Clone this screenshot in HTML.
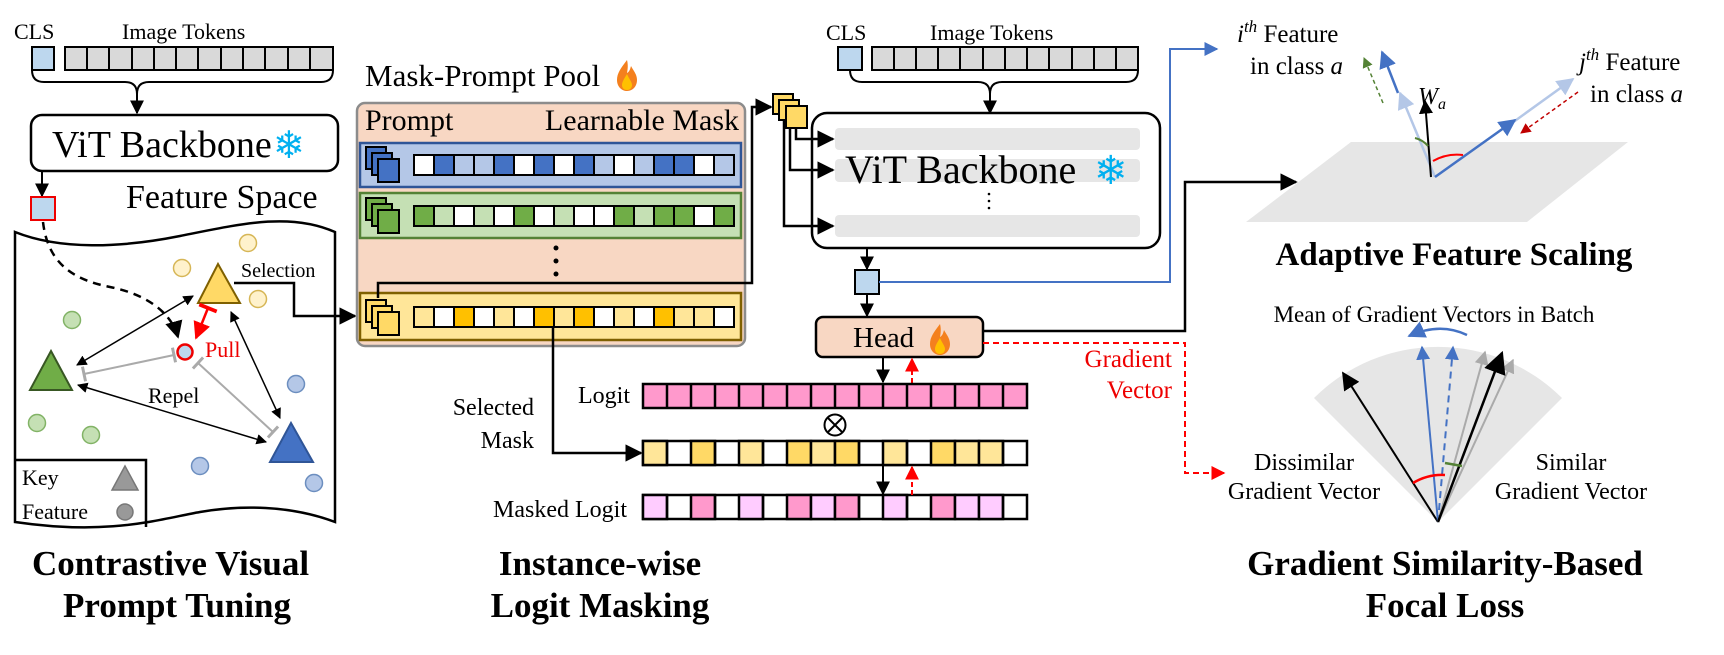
<!DOCTYPE html>
<html><head><meta charset="utf-8"><style>
html,body{margin:0;padding:0;background:#fff;}
svg{display:block;font-family:"Liberation Serif",serif;}
</style></head><body>
<svg width="1724" height="655" viewBox="0 0 1724 655" xmlns="http://www.w3.org/2000/svg">
<defs>
<marker id="ak" viewBox="0 0 10 10" refX="9" refY="5" markerWidth="7" markerHeight="7" orient="auto-start-reverse"><path d="M0,0L10,5L0,10z" fill="#000"/></marker>
<marker id="ak2" viewBox="0 0 10 10" refX="9" refY="5" markerWidth="9" markerHeight="9" orient="auto-start-reverse"><path d="M0,0L10,5L0,10z" fill="#000"/></marker>
<marker id="ar" viewBox="0 0 10 10" refX="9" refY="5" markerWidth="7" markerHeight="7" orient="auto"><path d="M0,0L10,5L0,10z" fill="#f00"/></marker>
<marker id="ab" viewBox="0 0 10 10" refX="9" refY="5" markerWidth="7" markerHeight="7" orient="auto"><path d="M0,0L10,5L0,10z" fill="#4472c4"/></marker>
<marker id="alb" viewBox="0 0 10 10" refX="9" refY="5" markerWidth="7" markerHeight="7" orient="auto"><path d="M0,0L10,5L0,10z" fill="#b4c7e7"/></marker>
<marker id="ag" viewBox="0 0 10 10" refX="9" refY="5" markerWidth="7" markerHeight="7" orient="auto"><path d="M0,0L10,5L0,10z" fill="#548235"/></marker>
<marker id="agr" viewBox="0 0 10 10" refX="9" refY="5" markerWidth="7" markerHeight="7" orient="auto"><path d="M0,0L10,5L0,10z" fill="#aaa"/></marker>
<marker id="adr" viewBox="0 0 10 10" refX="9" refY="5" markerWidth="7" markerHeight="7" orient="auto"><path d="M0,0L10,5L0,10z" fill="#c00000"/></marker>
<marker id="tg" viewBox="0 0 4 10" refX="2" refY="5" markerWidth="3" markerHeight="8" orient="auto"><path d="M2,0V10" stroke="#aaa" stroke-width="2"/></marker>
<marker id="tr" viewBox="0 0 4 10" refX="2" refY="5" markerWidth="3" markerHeight="8" orient="auto"><path d="M2,0V10" stroke="#f00" stroke-width="2"/></marker>
<g id="fire"><path d="M10,0 C4,8 0,13 0,20 C0,27 5,31 10,31 C15,31 20,27 20,20 C20,14 16,10 14,6 C13,10 12,12 10,13 C11,8 11,4 10,0Z" fill="#f4801e"/><path d="M10,14 C7,19 5,22 5,25 C5,28 7,30 10,30 C13,30 15,28 15,25 C15,22 12,19 10,14Z" fill="#ffc000"/></g>
</defs>

<!-- ===== LEFT: Contrastive Visual Prompt Tuning ===== -->
<text x="14" y="39" font-size="22">CLS</text>
<text x="122" y="39" font-size="22">Image Tokens</text>
<rect x="32" y="47" width="22" height="23" fill="#bdd7ee" stroke="#000" stroke-width="2"/>
<g stroke="#000" stroke-width="2" fill="#d9d9d9">
<rect x="65" y="47" width="268" height="23"/>
</g>
<g stroke="#000" stroke-width="2">
<path d="M87,47v23M109,47v23M132,47v23M154,47v23M176,47v23M198,47v23M221,47v23M243,47v23M265,47v23M288,47v23M310,47v23"/>
</g>
<path d="M32,70 q0,12 12,12 H125 q12,0 12,12 q0,-12 12,-12 H321 q12,0 12,-12" fill="none" stroke="#000" stroke-width="2"/>
<line x1="137" y1="94" x2="137" y2="113" stroke="#000" stroke-width="2" marker-end="url(#ak)"/>
<rect x="31" y="115" width="307" height="56" rx="11" fill="#fff" stroke="#000" stroke-width="2.5"/>
<text x="52" y="157" font-size="38">ViT Backbone</text>
<text x="273" y="158" font-size="38" fill="#00b0f0">❄</text>
<line x1="42" y1="171" x2="42" y2="196" stroke="#000" stroke-width="2" marker-end="url(#ak)"/>
<rect x="31" y="197" width="24" height="23" fill="#bdd7ee" stroke="#e00" stroke-width="2"/>
<text x="126" y="208" font-size="34">Feature Space</text>
<!-- paper -->
<path d="M15,232 C60,250 120,248 180,236 S290,212 335,232 V522 C290,505 240,505 200,512 S110,536 15,522 Z" fill="#fff" stroke="#000" stroke-width="2.5"/>
<path d="M15,460 H146 V527" fill="none" stroke="#000" stroke-width="2.5"/>
<text x="22" y="485" font-size="22">Key</text>
<path d="M125,466 L138,490 H112Z" fill="#999" stroke="#777" stroke-width="1.5"/>
<text x="22" y="519" font-size="22">Feature</text>
<circle cx="125" cy="512" r="8" fill="#999" stroke="#777" stroke-width="1.5"/>
<!-- dashed curve -->
<path d="M43,222 C48,265 75,280 110,287 C150,295 172,315 178,337" fill="none" stroke="#000" stroke-width="2.5" stroke-dasharray="8,6" marker-end="url(#ak)"/>
<!-- circles -->
<g stroke-width="1.5">
<circle cx="248" cy="243" r="8.5" fill="#fff2cc" stroke="#d6b656"/>
<circle cx="182" cy="268" r="8.5" fill="#fff2cc" stroke="#d6b656"/>
<circle cx="258" cy="299" r="8.5" fill="#fff2cc" stroke="#d6b656"/>
<circle cx="72" cy="320" r="8.5" fill="#c5e0b4" stroke="#82b366"/>
<circle cx="37" cy="423" r="8.5" fill="#c5e0b4" stroke="#82b366"/>
<circle cx="91" cy="435" r="8.5" fill="#c5e0b4" stroke="#82b366"/>
<circle cx="296" cy="384" r="8.5" fill="#b4c7e7" stroke="#6c8ebf"/>
<circle cx="200" cy="466" r="8.5" fill="#b4c7e7" stroke="#6c8ebf"/>
<circle cx="314" cy="483" r="8.5" fill="#b4c7e7" stroke="#6c8ebf"/>
</g>
<!-- gray T lines -->
<line x1="174" y1="355" x2="84" y2="374" stroke="#aaa" stroke-width="2" marker-start="url(#tg)" marker-end="url(#tg)"/>
<line x1="198" y1="363" x2="273" y2="432" stroke="#aaa" stroke-width="2" marker-start="url(#tg)" marker-end="url(#tg)"/>
<!-- black double arrows -->
<line x1="77" y1="365" x2="193" y2="296" stroke="#000" stroke-width="1.5" marker-start="url(#ak)" marker-end="url(#ak)"/>
<line x1="231" y1="312" x2="280" y2="418" stroke="#000" stroke-width="1.5" marker-start="url(#ak)" marker-end="url(#ak)"/>
<line x1="78" y1="385" x2="266" y2="442" stroke="#000" stroke-width="1.5" marker-start="url(#ak)" marker-end="url(#ak)"/>
<text x="148" y="403" font-size="22">Repel</text>
<!-- triangles -->
<path d="M218,264 L240,303 H198Z" fill="#ffd966" stroke="#7f6000" stroke-width="2"/>
<path d="M51,351 L72,390 H30Z" fill="#70ad47" stroke="#385723" stroke-width="2"/>
<path d="M291,423 L313,462 H270Z" fill="#4472c4" stroke="#2f5597" stroke-width="2"/>
<!-- pull -->
<line x1="208" y1="308" x2="196" y2="338" stroke="#f00" stroke-width="2.5" marker-start="url(#tr)" marker-end="url(#ar)"/>
<circle cx="185" cy="352" r="7.5" fill="#bdd7ee" stroke="#e00" stroke-width="2.5"/>
<text x="205" y="357" font-size="22" fill="#e00">Pull</text>
<!-- selection -->
<text x="241" y="277" font-size="20">Selection</text>
<path d="M234,283 H294 V316 H355" fill="none" stroke="#000" stroke-width="2.5" marker-end="url(#ak)"/>

<text x="32" y="575" font-size="35" font-weight="bold">Contrastive Visual</text>
<text x="177" y="617" font-size="35" font-weight="bold" text-anchor="middle">Prompt Tuning</text>

<!-- ===== MIDDLE: Mask-prompt pool ===== -->
<text x="365" y="86" font-size="31">Mask-Prompt Pool</text>
<use href="#fire" x="617" y="60"/>
<rect x="357" y="103" width="388" height="243" rx="8" fill="#f8d7c3" stroke="#8c8c8c" stroke-width="2.5"/>
<text x="365" y="130" font-size="30">Prompt</text>
<text x="739" y="130" font-size="30" text-anchor="end">Learnable Mask</text>
<!-- blue row -->
<rect x="360" y="143" width="381" height="44" fill="#b4c7e7" stroke="#2f5597" stroke-width="2.5"/>
<g fill="#4472c4" stroke="#000" stroke-width="2"><rect x="366" y="147" width="20" height="22"/><rect x="372" y="153" width="20" height="22"/><rect x="378" y="159" width="21" height="23"/></g>
<!-- green row -->
<rect x="360" y="193" width="381" height="45" fill="#c5e0b4" stroke="#548235" stroke-width="2.5"/>
<g fill="#70ad47" stroke="#000" stroke-width="2"><rect x="366" y="198" width="20" height="22"/><rect x="372" y="204" width="20" height="22"/><rect x="378" y="210" width="21" height="23"/></g>
<circle cx="556" cy="248" r="2.5"/><circle cx="556" cy="261" r="2.5"/><circle cx="556" cy="274" r="2.5"/>
<!-- yellow row -->
<rect x="360" y="293" width="381" height="47" fill="#ffe699" stroke="#7f6000" stroke-width="2.5"/>
<g fill="#ffd966" stroke="#000" stroke-width="2"><rect x="366" y="300" width="20" height="22"/><rect x="372" y="306" width="20" height="22"/><rect x="378" y="312" width="21" height="23"/></g>
<g stroke="#000" stroke-width="2" id="cells"></g>
<!-- cells rows drawn below -->
<g stroke="#000" stroke-width="2">
<!-- blue -->
<rect x="414" y="155" width="20" height="20" fill="#fff"/><rect x="434" y="155" width="20" height="20" fill="#4472c4"/><rect x="454" y="155" width="20" height="20" fill="#b4c7e7"/><rect x="474" y="155" width="20" height="20" fill="#b4c7e7"/><rect x="494" y="155" width="20" height="20" fill="#4472c4"/><rect x="514" y="155" width="20" height="20" fill="#fff"/><rect x="534" y="155" width="20" height="20" fill="#4472c4"/><rect x="554" y="155" width="20" height="20" fill="#fff"/><rect x="574" y="155" width="20" height="20" fill="#4472c4"/><rect x="594" y="155" width="20" height="20" fill="#b4c7e7"/><rect x="614" y="155" width="20" height="20" fill="#fff"/><rect x="634" y="155" width="20" height="20" fill="#b4c7e7"/><rect x="654" y="155" width="20" height="20" fill="#4472c4"/><rect x="674" y="155" width="20" height="20" fill="#4472c4"/><rect x="694" y="155" width="20" height="20" fill="#fff"/><rect x="714" y="155" width="20" height="20" fill="#b4c7e7"/>
<!-- green -->
<rect x="414" y="206" width="20" height="20" fill="#70ad47"/><rect x="434" y="206" width="20" height="20" fill="#c5e0b4"/><rect x="454" y="206" width="20" height="20" fill="#fff"/><rect x="474" y="206" width="20" height="20" fill="#c5e0b4"/><rect x="494" y="206" width="20" height="20" fill="#fff"/><rect x="514" y="206" width="20" height="20" fill="#70ad47"/><rect x="534" y="206" width="20" height="20" fill="#fff"/><rect x="554" y="206" width="20" height="20" fill="#c5e0b4"/><rect x="574" y="206" width="20" height="20" fill="#fff"/><rect x="594" y="206" width="20" height="20" fill="#fff"/><rect x="614" y="206" width="20" height="20" fill="#70ad47"/><rect x="634" y="206" width="20" height="20" fill="#c5e0b4"/><rect x="654" y="206" width="20" height="20" fill="#70ad47"/><rect x="674" y="206" width="20" height="20" fill="#70ad47"/><rect x="694" y="206" width="20" height="20" fill="#fff"/><rect x="714" y="206" width="20" height="20" fill="#70ad47"/>
<!-- yellow -->
<rect x="414" y="307" width="20" height="20" fill="#ffe699"/><rect x="434" y="307" width="20" height="20" fill="#fff"/><rect x="454" y="307" width="20" height="20" fill="#ffc000"/><rect x="474" y="307" width="20" height="20" fill="#fff"/><rect x="494" y="307" width="20" height="20" fill="#ffe699"/><rect x="514" y="307" width="20" height="20" fill="#fff"/><rect x="534" y="307" width="20" height="20" fill="#ffc000"/><rect x="554" y="307" width="20" height="20" fill="#ffe699"/><rect x="574" y="307" width="20" height="20" fill="#ffc000"/><rect x="594" y="307" width="20" height="20" fill="#fff"/><rect x="614" y="307" width="20" height="20" fill="#ffe699"/><rect x="634" y="307" width="20" height="20" fill="#fff"/><rect x="654" y="307" width="20" height="20" fill="#ffc000"/><rect x="674" y="307" width="20" height="20" fill="#ffe699"/><rect x="694" y="307" width="20" height="20" fill="#ffe699"/><rect x="714" y="307" width="20" height="20" fill="#fff"/>
</g>
<!-- line from yellow stack to second ViT -->
<path d="M378,298 V283 H752 V107 H771" fill="none" stroke="#000" stroke-width="2.5" marker-end="url(#ak)"/>
<!-- selected mask line -->
<path d="M553,327 V453 H641" fill="none" stroke="#000" stroke-width="2.5" marker-end="url(#ak)"/>

<!-- second ViT -->
<text x="826" y="40" font-size="22">CLS</text>
<text x="930" y="40" font-size="22">Image Tokens</text>
<rect x="838" y="47" width="24" height="23" fill="#bdd7ee" stroke="#000" stroke-width="2"/>
<rect x="872" y="47" width="266" height="23" fill="#d9d9d9" stroke="#000" stroke-width="2"/>
<path d="M894,47v23M916,47v23M938,47v23M960,47v23M983,47v23M1005,47v23M1027,47v23M1049,47v23M1072,47v23M1094,47v23M1116,47v23" stroke="#000" stroke-width="2"/>
<path d="M850,70 q0,12 12,12 H978 q12,0 12,12 q0,-12 12,-12 H1126 q12,0 12,-12" fill="none" stroke="#000" stroke-width="2"/>
<line x1="990" y1="94" x2="990" y2="113" stroke="#000" stroke-width="2" marker-end="url(#ak)"/>
<rect x="812" y="113" width="348" height="135" rx="15" fill="#fff" stroke="#000" stroke-width="2.5"/>
<rect x="835" y="128" width="305" height="22" rx="4" fill="#e6e6e6"/>
<rect x="835" y="159" width="305" height="23" rx="4" fill="#e6e6e6"/>
<rect x="835" y="215" width="305" height="22" rx="4" fill="#e6e6e6"/>
<text x="845" y="183" font-size="40">ViT Backbone</text>
<text x="1094" y="184" font-size="40" fill="#00b0f0">❄</text>
<circle cx="989" cy="194" r="1.3"/><circle cx="989" cy="201" r="1.3"/><circle cx="989" cy="208" r="1.3"/>
<g fill="#ffd966" stroke="#000" stroke-width="2"><rect x="773" y="94" width="20" height="20"/><rect x="779" y="100" width="20" height="20"/><rect x="786" y="106" width="21" height="22"/></g>
<path d="M796,128 V139 H833" fill="none" stroke="#000" stroke-width="2.5" marker-end="url(#ak)"/>
<path d="M790,128 V170 H833" fill="none" stroke="#000" stroke-width="2.5" marker-end="url(#ak)"/>
<path d="M784,120 V226 H833" fill="none" stroke="#000" stroke-width="2.5" marker-end="url(#ak)"/>
<line x1="867" y1="248" x2="867" y2="269" stroke="#000" stroke-width="2" marker-end="url(#ak)"/>
<rect x="855" y="270" width="24" height="24" fill="#bdd7ee" stroke="#000" stroke-width="2"/>
<line x1="867" y1="294" x2="867" y2="316" stroke="#000" stroke-width="2" marker-end="url(#ak)"/>
<path d="M879,282 H1170 V49 H1217" fill="none" stroke="#4472c4" stroke-width="2" marker-end="url(#ab)"/>
<!-- head -->
<rect x="816" y="317" width="167" height="40" rx="7" fill="#f8d7c3" stroke="#000" stroke-width="2.5"/>
<text x="853" y="347" font-size="29">Head</text>
<use href="#fire" x="930" y="324" transform="translate(0,0)"/>
<path d="M983,331 H1185 V182 H1296" fill="none" stroke="#000" stroke-width="2.5" marker-end="url(#ak)"/>
<path d="M983,343 H1185 V473 H1224" fill="none" stroke="#f00" stroke-width="2" stroke-dasharray="6,4" marker-end="url(#ar)"/>
<text x="1172" y="367" font-size="25" fill="#e00" text-anchor="end">Gradient</text>
<text x="1172" y="398" font-size="25" fill="#e00" text-anchor="end">Vector</text>
<line x1="883" y1="357" x2="883" y2="382" stroke="#000" stroke-width="2" marker-end="url(#ak)"/>
<line x1="912" y1="383" x2="912" y2="359" stroke="#f00" stroke-width="2" stroke-dasharray="5,3" marker-end="url(#ar)"/>
<!-- logit rows -->
<text x="630" y="403" font-size="24" text-anchor="end">Logit</text>
<text x="534" y="415" font-size="24" text-anchor="end">Selected</text>
<text x="534" y="448" font-size="24" text-anchor="end">Mask</text>
<text x="627" y="517" font-size="24" text-anchor="end">Masked Logit</text>
<g stroke="#000" stroke-width="2.5">
<rect x="643" y="384" width="384" height="24" fill="#ff99cc"/>
<rect x="643" y="441" width="384" height="24" fill="#fff"/>
<rect x="643" y="495" width="384" height="24" fill="#fff"/>
</g>
<g stroke="#000" stroke-width="2.5">
<path d="M667,384v24M691,384v24M715,384v24M739,384v24M763,384v24M787,384v24M811,384v24M835,384v24M859,384v24M883,384v24M907,384v24M931,384v24M955,384v24M979,384v24M1003,384v24"/>
</g>
<g stroke="#000" stroke-width="2.5">
<rect x="643" y="441" width="24" height="24" fill="#ffe699"/><rect x="691" y="441" width="24" height="24" fill="#ffd966"/><rect x="739" y="441" width="24" height="24" fill="#ffe699"/><rect x="787" y="441" width="24" height="24" fill="#ffd966"/><rect x="811" y="441" width="24" height="24" fill="#ffe699"/><rect x="835" y="441" width="24" height="24" fill="#ffd966"/><rect x="883" y="441" width="24" height="24" fill="#ffe699"/><rect x="931" y="441" width="24" height="24" fill="#ffd966"/><rect x="955" y="441" width="24" height="24" fill="#ffe699"/><rect x="979" y="441" width="24" height="24" fill="#ffe699"/>
<path d="M667,441v24M715,441v24M763,441v24M859,441v24M907,441v24M1003,441v24"/>
<rect x="643" y="495" width="24" height="24" fill="#ffccff"/><rect x="691" y="495" width="24" height="24" fill="#ff99cc"/><rect x="739" y="495" width="24" height="24" fill="#ffccff"/><rect x="787" y="495" width="24" height="24" fill="#ff99cc"/><rect x="811" y="495" width="24" height="24" fill="#ffccff"/><rect x="835" y="495" width="24" height="24" fill="#ff99cc"/><rect x="883" y="495" width="24" height="24" fill="#ffccff"/><rect x="931" y="495" width="24" height="24" fill="#ff99cc"/><rect x="955" y="495" width="24" height="24" fill="#ffccff"/><rect x="979" y="495" width="24" height="24" fill="#ffccff"/>
<path d="M667,495v24M715,495v24M763,495v24M859,495v24M907,495v24M1003,495v24"/>
</g>
<circle cx="835" cy="425" r="10.5" fill="#fff" stroke="#000" stroke-width="2"/>
<path d="M827.5,417.5l15,15M842.5,417.5l-15,15" stroke="#000" stroke-width="2"/>
<line x1="883" y1="465" x2="883" y2="494" stroke="#000" stroke-width="2" marker-end="url(#ak)"/>
<line x1="912" y1="495" x2="912" y2="467" stroke="#f00" stroke-width="2" stroke-dasharray="5,3" marker-end="url(#ar)"/>

<text x="600" y="575" font-size="35" font-weight="bold" text-anchor="middle">Instance-wise</text>
<text x="600" y="617" font-size="35" font-weight="bold" text-anchor="middle">Logit Masking</text>

<!-- ===== RIGHT: Adaptive Feature Scaling ===== -->
<path d="M1351,142 H1628 L1527,222 H1246Z" fill="#e6e6e6"/>
<text x="1237" y="42" font-size="25" font-style="italic">i<tspan font-size="17" dy="-10">th</tspan><tspan font-style="normal" dy="10"> Feature</tspan></text>
<text x="1250" y="74" font-size="25">in class <tspan font-style="italic">a</tspan></text>
<text x="1579" y="70" font-size="25" font-style="italic">j<tspan font-size="17" dy="-10">th</tspan><tspan font-style="normal" dy="10"> Feature</tspan></text>
<text x="1590" y="102" font-size="25">in class <tspan font-style="italic">a</tspan></text>
<text x="1418" y="104" font-size="24" font-style="italic">W<tspan font-size="16" dy="5">a</tspan></text>
<line x1="1383" y1="103" x2="1364" y2="58" stroke="#548235" stroke-width="1.5" stroke-dasharray="4,3" marker-end="url(#ag)"/>
<line x1="1398" y1="93" x2="1382" y2="52" stroke="#4472c4" stroke-width="2.5" marker-end="url(#ab)"/>
<line x1="1435" y1="177" x2="1400" y2="93" stroke="#b4c7e7" stroke-width="2.5" marker-end="url(#alb)"/>
<line x1="1431" y1="177" x2="1425" y2="101" stroke="#000" stroke-width="2" marker-end="url(#ak)"/>
<line x1="1512" y1="123" x2="1573" y2="79" stroke="#b4c7e7" stroke-width="2.5" marker-end="url(#alb)"/>
<line x1="1435" y1="177" x2="1515" y2="120" stroke="#4472c4" stroke-width="2.5" marker-end="url(#ab)"/>
<line x1="1578" y1="92" x2="1521" y2="133" stroke="#c00000" stroke-width="1.5" stroke-dasharray="4,3" marker-end="url(#adr)"/>
<path d="M1433,161 Q1447,153 1463,155" fill="none" stroke="#f00" stroke-width="2"/>
<path d="M1415,138 Q1423,140 1428,146" fill="none" stroke="#548235" stroke-width="2"/>
<text x="1454" y="265" font-size="33" font-weight="bold" text-anchor="middle">Adaptive Feature Scaling</text>

<!-- ===== RIGHT: Gradient Similarity ===== -->
<text x="1434" y="322" font-size="23" text-anchor="middle">Mean of Gradient Vectors in Batch</text>
<path d="M1467,335 Q1440,322 1409,336" fill="none" stroke="#4472c4" stroke-width="2.5" marker-end="url(#ab)"/>
<path d="M1438,522 L1314,398 A176,176 0 0 1 1562,398 Z" fill="#e6e6e6"/>
<line x1="1438" y1="522" x2="1343" y2="373" stroke="#000" stroke-width="2" marker-end="url(#ak2)"/>
<line x1="1438" y1="522" x2="1422" y2="347" stroke="#4472c4" stroke-width="2" marker-end="url(#ab)"/>
<line x1="1438" y1="522" x2="1453" y2="347" stroke="#4472c4" stroke-width="2" stroke-dasharray="7,5" marker-end="url(#ab)"/>
<line x1="1438" y1="522" x2="1485" y2="352" stroke="#aaa" stroke-width="2" marker-end="url(#agr)"/>
<line x1="1438" y1="522" x2="1513" y2="360" stroke="#aaa" stroke-width="2" marker-end="url(#agr)"/>
<line x1="1438" y1="522" x2="1502" y2="353" stroke="#000" stroke-width="2.5" marker-end="url(#ak2)"/>
<path d="M1413,483 Q1428,474 1445,475" fill="none" stroke="#f00" stroke-width="2.5"/>
<line x1="1445" y1="463" x2="1462" y2="466" stroke="#548235" stroke-width="2.5"/>
<text x="1304" y="470" font-size="24" text-anchor="middle">Dissimilar</text>
<text x="1304" y="499" font-size="24" text-anchor="middle">Gradient Vector</text>
<text x="1571" y="470" font-size="24" text-anchor="middle">Similar</text>
<text x="1571" y="499" font-size="24" text-anchor="middle">Gradient Vector</text>
<text x="1445" y="575" font-size="35" font-weight="bold" text-anchor="middle">Gradient Similarity-Based</text>
<text x="1445" y="617" font-size="35" font-weight="bold" text-anchor="middle">Focal Loss</text>
</svg>
</body></html>
